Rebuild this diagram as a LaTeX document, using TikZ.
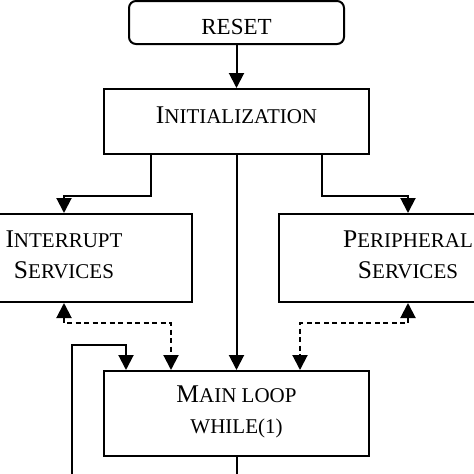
\documentclass[tikz,border=0pt]{standalone}
\usepackage{fontspec}
\setmainfont{Liberation Serif}
\usetikzlibrary{arrows.meta,positioning}
\newcommand{\smcap}[1]{{\fontsize{21}{24}\selectfont #1}}

\begin{document}
\begin{tikzpicture}[
      x=1pt, y=1pt,
      node distance=43pt and 0pt,
      every node/.style={font=\fontsize{25.5}{31}\selectfont},
      box/.style={rectangle, draw, line width=2pt, inner sep=0pt,
                  minimum height=65pt, minimum width=265pt, align=center},
      arr/.style={-{Triangle[length=15pt, width=15pt]}, line width=2pt},
      darr/.style={{Triangle[length=15pt, width=15pt]}-{Triangle[length=15pt, width=15pt]},
                   line width=2pt, dash pattern=on 5pt off 3.5pt}
    ]
      \clip (0,0) rectangle (474,-474);
      \node[box, rounded corners=7pt, minimum width=215pt, minimum height=43pt,
            text height=23pt, text depth=0pt] (reset)
        at (236.5,-22.5) {\fontsize{23}{27}\selectfont RESET};
      \node[box, below=of reset, text height=17pt, text depth=14pt] (init) {I\smcap{NITIALIZATION}};
      \node[box, below=215pt of init, minimum height=85pt, text depth=8pt] (main)
        {M\smcap{AIN LOOP}\\\smcap{WHILE(1)}};
      \node[box, minimum width=256pt, minimum height=88pt, text depth=6pt] (irq)
        at (64,-258) {I\smcap{NTERRUPT}\\S\smcap{ERVICES}};
      \node[box, minimum width=258pt, minimum height=88pt, text depth=6pt] (periph)
        at (408,-258) {P\smcap{ERIPHERAL}\\S\smcap{ERVICES}};
      \coordinate (bottom) at (0,-474);
      \coordinate (loopin) at (72,-474);

      \draw[arr] (reset) -- (init);
      \draw[arr] (init) -- (main);
      \draw[arr] ([xshift=-86pt]init.south) -- ++(0,-41) -| (irq.north);
      \draw[arr] ([xshift=85pt]init.south) -- ++(0,-41) -| (periph.north);
      \draw[darr] (irq.south) -- ++(0,-20) -| ([xshift=-65.5pt]main.north);
      \draw[darr] (periph.south) -- ++(0,-20) -| ([xshift=63.5pt]main.north);
      \draw[arr] (loopin) -- ++(0,129) -| ([xshift=23pt]main.north west);
      \draw[line width=2pt] (main) -- (main.south |- bottom);
    \end{tikzpicture}
\end{document}
